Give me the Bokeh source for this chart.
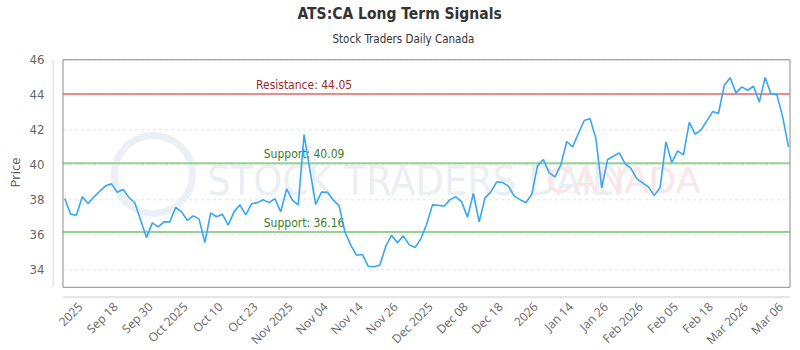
import math
from bokeh.plotting import figure
from bokeh.models import Range1d, LinearAxis, FixedTicker, Title
from bokeh.embed import file_html
from bokeh.resources import INLINE
from bokeh.core.properties import value

# ---- data ----
prices = [
    38.07, 37.18, 37.12, 38.17, 37.79, 38.17, 38.49, 38.80, 38.91, 38.43,
    38.59, 38.13, 37.83, 36.83, 35.84, 36.68, 36.45, 36.74, 36.74, 37.56,
    37.31, 36.83, 37.08, 36.91, 35.56, 37.25, 37.03, 37.18, 36.55, 37.31,
    37.71, 37.14, 37.77, 37.84, 38.00, 37.84, 38.07, 37.31, 38.62, 37.98,
    37.71, 41.73, 39.70, 37.73, 38.45, 38.43, 37.98, 37.67, 36.16, 35.41,
    34.83, 34.87, 34.20, 34.17, 34.28, 35.35, 35.98, 35.54, 35.94, 35.44,
    35.27, 35.77, 36.60, 37.71, 37.69, 37.63, 38.01, 38.17, 37.88, 37.01,
    38.36, 36.74, 38.11, 38.45, 39.02, 39.00, 38.78, 38.21, 38.01, 37.83,
    38.30, 39.94, 40.30, 39.54, 39.31, 40.01, 41.33, 41.02, 41.79, 42.53,
    42.64, 41.50, 38.68, 40.30, 40.49, 40.68, 40.07, 39.79, 39.21, 38.97,
    38.74, 38.24, 38.70, 41.31, 40.13, 40.80, 40.57, 42.42, 41.75, 41.98,
    42.51, 43.04, 42.93, 44.55, 44.97, 44.11, 44.45, 44.26, 44.49, 43.58,
    44.99, 44.05, 44.01, 42.74, 41.02,
]
x_index = list(range(len(prices)))

tick_positions = [3, 9, 15, 21, 27, 33, 39, 45, 51, 57, 63, 69, 75, 81, 87,
                  93, 99, 105, 111, 117, 123]
tick_labels = ["2025", "Sep 18", "Sep 30", "Oct 2025", "Oct 10", "Oct 23",
               "Nov 2025", "Nov 04", "Nov 14", "Nov 26", "Dec 2025", "Dec 08",
               "Dec 18", "2026", "Jan 14", "Jan 26", "Feb 2026", "Feb 05",
               "Feb 18", "Mar 2026", "Mar 06"]
y_ticks = [34, 36, 38, 40, 42, 44, 46]
y_min, y_max = 33, 46

resistance_levels = [44.05]
support_levels = [40.09, 36.16]
label_index = 41

FONT_C = "'Liberation Sans Narrow', 'DejaVu Sans Condensed', sans-serif"

# frame geometry (pixels): frame 50..791 x 58..350; plot box 60..790 x 59..287
PX_PER_X = 725.7 / 124.0
PX_PER_Y = 17.5
x_lo = -12.3 / PX_PER_X
x_hi = x_lo + 741 / PX_PER_X
y_hi = y_max + 1.3 / PX_PER_Y
y_lo = y_hi - 292 / PX_PER_Y

def xpx(px):
    return x_lo + (px - 50) / PX_PER_X

def ypx(py):
    return y_hi - (py - 58) / PX_PER_Y

box_l, box_r = xpx(60.5), xpx(789.5)

p = figure(width=800, height=350, output_backend="svg", toolbar_location=None,
           x_axis_location=None, y_axis_location=None,
           x_range=Range1d(x_lo, x_hi), y_range=Range1d(y_lo, y_hi),
           min_border_left=50, min_border_right=9, min_border_top=58,
           min_border_bottom=0)
p.outline_line_color = None
p.background_fill_color = "white"
p.border_fill_color = "white"
p.xgrid.visible = False
p.ygrid.visible = False

yax = LinearAxis(ticker=FixedTicker(ticks=y_ticks), axis_line_color=None,
                 major_tick_line_color=None, minor_tick_line_color=None,
                 major_tick_out=0, major_tick_in=0, major_label_standoff=8,
                 major_label_text_font=FONT_C,
                 major_label_text_font_size="13px",
                 major_label_text_color="#666666")
p.add_layout(yax, "left")
p.add_layout(Title(text="Price", align="left", offset=163,
                   text_font="Open Sans", text_font_size="13px",
                   text_font_style="normal", text_color="#555555",
                   standoff=6), "left")

# dashed horizontal grid inside the plot box
p.segment(x0=[box_l] * len(y_ticks), x1=[box_r] * len(y_ticks), y0=y_ticks,
          y1=y_ticks, line_color="#e3e3e3", line_width=1, line_dash="3 3")

# watermark
p.scatter(x=[15.2], y=[39.45], size=78, marker="circle", fill_color=None,
          line_color="#ebf0f5", line_width=7)
p.text(x=[24.4], y=[39.1], text=["STOCK TRADERS DAILY"], text_align="left",
       text_baseline="middle", text_font=value(FONT_C),
       text_font_size="41px", text_color="#eaeff4")
p.text(x=[82.5], y=[39.1], text=["CANADA"], text_align="left",
       text_baseline="middle", text_font=value("Liberation Sans"),
       text_font_size="37px", text_color="#fce5e5")

for lvl in resistance_levels:
    p.segment(x0=[box_l], x1=[box_r], y0=[lvl], y1=[lvl],
              line_color="#e88c8c", line_width=2)
    p.text(x=[label_index], y=[lvl], text=[f"Resistance: {lvl:.2f}"],
           text_align="center", text_baseline="bottom", y_offset=-2,
           text_font=value(FONT_C), text_font_size="12px",
           text_color="#9b2b2b")
for lvl in support_levels:
    p.segment(x0=[box_l], x1=[box_r], y0=[lvl], y1=[lvl],
              line_color="#97cf97", line_width=2)
    p.text(x=[label_index], y=[lvl], text=[f"Support: {lvl:.2f}"],
           text_align="center", text_baseline="bottom", y_offset=-2,
           text_font=value(FONT_C), text_font_size="12px",
           text_color="#3a7d2a")

p.line(x_index, prices, line_color="#37a6f4", line_width=1.6)

# plot box border and offset axis lines
p.quad(left=[box_l], right=[box_r], bottom=[y_min], top=[y_max],
       fill_color=None, line_color="#8a8a8a", line_width=1)
p.segment(x0=[xpx(50.5)], x1=[xpx(50.5)], y0=[y_min], y1=[y_max],
          line_color="#cccccc", line_width=1)
p.segment(x0=[box_l], x1=[box_r], y0=[ypx(296.5)], y1=[ypx(296.5)],
          line_color="#cccccc", line_width=1)

# x tick labels (rotated), placed through the x scale
p.text(x=tick_positions, y=[ypx(304)] * len(tick_positions), text=tick_labels,
       angle=math.pi / 4, text_align="right", text_baseline="middle",
       x_offset=-2, text_font=value("Open Sans"), text_font_size="12px",
       text_color="#666666")

p.add_layout(Title(text="Stock Traders Daily Canada", align="left",
                   text_font=FONT_C, text_font_size="11.5px",
                   text_font_style="normal", text_color="#333333",
                   standoff=26, offset=280), "above")
p.add_layout(Title(text="ATS:CA Long Term Signals", align="left",
                   text_font=FONT_C, text_font_size="15.5px",
                   text_font_style="bold", text_color="#333333",
                   standoff=-12, offset=245), "above")

open("out.html", "w").write(file_html(p, INLINE))
